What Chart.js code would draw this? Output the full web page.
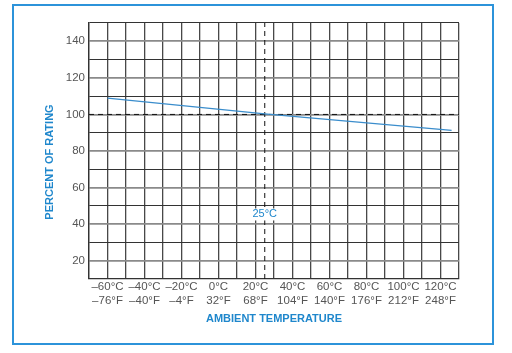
<!DOCTYPE html>
<html lang="en">
<head>
<meta charset="UTF-8">
<title>Percent of rating vs ambient temperature</title>
<script src="https://cdn.jsdelivr.net/npm/chart.js"></script>
<style>
    html, body { margin: 0; padding: 0; background: #ffffff; }
    #wrap { width: 512px; height: 353px; }
</style>
</head>
<body>
<div id="wrap"><canvas id="myChart" width="512" height="353"></canvas></div>
<script>
    // data
    const tempC = [-60, 25, 126];
    const rating = [108.9, 100.3, 91.3];
    const xTickValues = [-60, -40, -20, 0, 20, 40, 60, 80, 100, 120];
    const xTickC = ['–60°C', '–40°C', '–20°C', '0°C', '20°C', '40°C', '60°C', '80°C', '100°C', '120°C'];
    const xTickF = ['–76°F', '–40°F', '–4°F', '32°F', '68°F', '104°F', '140°F', '176°F', '212°F', '248°F'];
    const yTickValues = [20, 40, 60, 80, 100, 120, 140];
    const refTemp = 25;
    const refRating = 100;

    const BLUE = '#1f87cc';
    const FONT = "'Liberation Sans', Arial, sans-serif";

    // border, axis titles and the 25°C marker label
    const decor = {
        id: 'decor',
        afterDraw(chart) {
            const ctx = chart.ctx;
            const x = chart.scales.x, y = chart.scales.y;
            ctx.save();
            ctx.strokeStyle = '#2c93da';
            ctx.lineWidth = 2;
            ctx.strokeRect(13, 5, 480, 339);

            ctx.fillStyle = BLUE;
            ctx.font = 'bold 11px ' + FONT;
            ctx.textAlign = 'center';
            ctx.textBaseline = 'middle';
            ctx.fillText('AMBIENT TEMPERATURE', (x.left + x.right) / 2, 319);

            ctx.translate(50, 162);
            ctx.rotate(-Math.PI / 2);
            ctx.fillText('PERCENT OF RATING', 0, 0);
            ctx.restore();

            ctx.save();
            const lx = x.getPixelForValue(refTemp);
            const ly = y.getPixelForValue(45.3);
            ctx.font = '11px ' + FONT;
            const w = ctx.measureText(refTemp + '°C').width;
            ctx.fillStyle = '#ffffff';
            ctx.fillRect(lx - w / 2 - 1, ly - 6, w + 2, 12);
            ctx.fillStyle = BLUE;
            ctx.textAlign = 'center';
            ctx.textBaseline = 'middle';
            ctx.fillText(refTemp + '°C', lx, ly);
            ctx.restore();
        }
    };

    new Chart(document.getElementById('myChart'), {
        type: 'scatter',
        data: {
            datasets: [
                {
                    data: tempC.map((t, i) => ({ x: t, y: rating[i] })),
                    showLine: true,
                    borderColor: '#3a8dcc',
                    borderWidth: 1.2,
                    pointRadius: 0,
                    order: 0
                },
                {
                    data: [{ x: -70, y: refRating }, { x: 130, y: refRating }],
                    showLine: true,
                    borderColor: '#111',
                    borderWidth: 1,
                    borderDash: [5, 4],
                    pointRadius: 0,
                    order: 1
                },
                {
                    data: [{ x: refTemp, y: 10 }, { x: refTemp, y: 150 }],
                    showLine: true,
                    borderColor: '#111',
                    borderWidth: 1,
                    borderDash: [5, 4],
                    pointRadius: 0,
                    order: 1
                }
            ]
        },
        options: {
            responsive: false,
            animation: false,
            layout: { padding: { top: 23, right: 53, left: 0, bottom: 0 } },
            plugins: { legend: { display: false }, tooltip: { enabled: false } },
            scales: {
                x: {
                    type: 'linear',
                    min: -70,
                    max: 130,
                    afterFit: s => { s.height = 74; },
                    ticks: {
                        stepSize: 10,
                        autoSkip: false,
                        maxRotation: 0,
                        color: '#555',
                        font: { family: FONT, size: 11.5 },
                        padding: 1,
                        callback: v => {
                            const i = xTickValues.indexOf(v);
                            return i < 0 ? '' : [xTickC[i], xTickF[i]];
                        }
                    },
                    grid: { color: '#484848', lineWidth: 1.3, drawTicks: false },
                    border: { color: '#333', width: 1.3 }
                },
                y: {
                    min: 10,
                    max: 150,
                    afterFit: s => { s.width = 89; },
                    ticks: {
                        stepSize: 10,
                        autoSkip: false,
                        color: '#555',
                        font: { family: FONT, size: 11.5 },
                        padding: 4,
                        callback: v => yTickValues.includes(v) ? v : ''
                    },
                    grid: {
                        color: c => yTickValues.includes(c.tick && c.tick.value) ? '#8a8a8a' : '#333',
                        lineWidth: c => yTickValues.includes(c.tick && c.tick.value) ? 1.8 : 1.1,
                        drawTicks: false
                    },
                    border: { color: '#333', width: 1.3 }
                }
            }
        },
        plugins: [decor]
    });
</script>
</body>
</html>
